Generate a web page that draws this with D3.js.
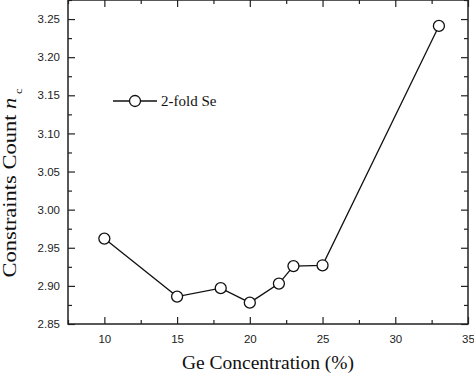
<!DOCTYPE html>
<html>
<head>
<meta charset="utf-8">
<script src="https://cdn.jsdelivr.net/npm/d3@7"></script>
<style>
  body { margin: 0; background: #fff; }
  svg { display: block; }
</style>
</head>
<body>
<div id="chart"></div>
<script>
// data
var geConc = [10, 15, 18, 20, 22, 23, 25, 33];
var nc = [2.962, 2.886, 2.897, 2.878, 2.903, 2.926, 2.927, 3.241];
var xTicks = [10, 15, 20, 25, 30, 35];
var yTicks = [2.85, 2.90, 2.95, 3.00, 3.05, 3.10, 3.15, 3.20, 3.25];
var seriesName = "2-fold Se";

var svgWidth = 474, svgHeight = 374;
var margin = { top: 0, right: 6, bottom: 50, left: 68 };
var width = svgWidth - margin.left - margin.right;
var height = svgHeight - margin.top - margin.bottom;

var svg = d3.select("#chart").append("svg")
  .attr("width", svgWidth)
  .attr("height", svgHeight);

var g = svg.append("g")
  .attr("transform", `translate(${margin.left}, ${margin.top})`);

// scales
var xScale = d3.scaleLinear().domain([7.5, 35]).range([0, width]);
var yScale = d3.scaleLinear().domain([2.85, 3.275]).range([height, 0]);

var minorX = d3.range(7.5, 35.01, 2.5).filter(v => xTicks.indexOf(v) < 0);
var minorY = d3.range(2.875, 3.276, 0.05);

function styleAxis(sel) {
  sel.select(".domain").remove();
  sel.selectAll("line").attr("stroke", "#222").attr("stroke-width", 1.2);
  sel.selectAll("text")
    .attr("font-family", "Liberation Sans, Arial, sans-serif")
    .attr("font-size", 11.5)
    .attr("fill", "#222");
}

// bottom axis
g.append("g").attr("transform", `translate(0, ${height})`)
  .call(d3.axisBottom(xScale).tickValues(xTicks).tickFormat(d3.format("d")).tickSizeInner(-7).tickPadding(11))
  .call(styleAxis);
g.append("g").attr("transform", `translate(0, ${height})`)
  .call(d3.axisBottom(xScale).tickValues(minorX).tickFormat("").tickSizeInner(-4))
  .call(styleAxis);
// top axis
g.append("g")
  .call(d3.axisTop(xScale).tickValues(xTicks).tickFormat("").tickSizeInner(-7))
  .call(styleAxis);
g.append("g")
  .call(d3.axisTop(xScale).tickValues(minorX).tickFormat("").tickSizeInner(-4))
  .call(styleAxis);
// left axis
g.append("g")
  .call(d3.axisLeft(yScale).tickValues(yTicks).tickFormat(d3.format(".2f")).tickSizeInner(-7).tickPadding(8))
  .call(styleAxis);
g.append("g")
  .call(d3.axisLeft(yScale).tickValues(minorY).tickFormat("").tickSizeInner(-4))
  .call(styleAxis);
// right axis
g.append("g").attr("transform", `translate(${width}, 0)`)
  .call(d3.axisRight(yScale).tickValues(yTicks).tickFormat("").tickSizeInner(-7))
  .call(styleAxis);
g.append("g").attr("transform", `translate(${width}, 0)`)
  .call(d3.axisRight(yScale).tickValues(minorY).tickFormat("").tickSizeInner(-4))
  .call(styleAxis);

// frame
g.append("rect")
  .attr("width", width).attr("height", height)
  .attr("fill", "none").attr("stroke", "#222").attr("stroke-width", 1.5);

// line + markers
var pts = geConc.map((x, i) => [x, nc[i]]);
var line = d3.line().x(d => xScale(d[0])).y(d => yScale(d[1]));
g.append("path").datum(pts)
  .attr("d", line)
  .attr("fill", "none").attr("stroke", "#111").attr("stroke-width", 1.3);
g.selectAll("circle.pt").data(pts).enter().append("circle")
  .attr("class", "pt")
  .attr("cx", d => xScale(d[0]))
  .attr("cy", d => yScale(d[1]))
  .attr("r", 5.5)
  .attr("fill", "#fff").attr("stroke", "#111").attr("stroke-width", 1.3);

// legend
var lg = svg.append("g").attr("transform", "translate(113, 101)");
lg.append("line").attr("x1", 0).attr("x2", 44).attr("y1", 0).attr("y2", 0)
  .attr("stroke", "#111").attr("stroke-width", 1.3);
lg.append("circle").attr("cx", 22).attr("cy", 0).attr("r", 5.5)
  .attr("fill", "#fff").attr("stroke", "#111").attr("stroke-width", 1.3);
lg.append("text").attr("x", 48).attr("y", 5)
  .attr("font-family", "Liberation Serif, Times New Roman, serif")
  .attr("font-size", 15).attr("fill", "#111")
  .text(seriesName);

// axis titles
svg.append("text")
  .attr("x", margin.left + width / 2).attr("y", 369)
  .attr("text-anchor", "middle")
  .attr("font-family", "Liberation Serif, Times New Roman, serif")
  .attr("font-size", 19.5).attr("fill", "#111")
  .text("Ge Concentration (%)");

// y title is drawn a bit stretched along its length, like the reference
var yt = svg.append("text")
  .attr("transform", "translate(16, 183) rotate(-90) scale(1.25, 1)")
  .attr("text-anchor", "middle")
  .attr("font-family", "Liberation Serif, Times New Roman, serif")
  .attr("font-size", 18).attr("fill", "#111");
yt.append("tspan").text("Constraints Count ");
yt.append("tspan").attr("font-style", "italic").text("n");
yt.append("tspan").attr("font-size", 10).attr("dy", 6).attr("dx", 3).text("c");
</script>
</body>
</html>
